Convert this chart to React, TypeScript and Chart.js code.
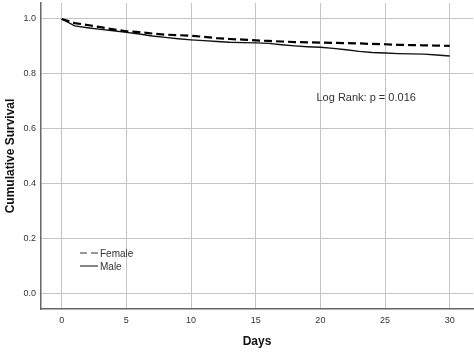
import React, { useEffect, useRef } from "react";
import { Chart, registerables } from "chart.js";

Chart.register(...registerables);

const days = [0, 1, 2, 3, 4, 5, 6, 7, 8, 9, 10, 11, 12, 13, 14, 15, 16, 17, 18, 19, 20, 21, 22, 23, 24, 25, 26, 27, 28, 29, 30];
const femaleSurvival = [1.0, 0.985, 0.978, 0.970, 0.962, 0.955, 0.952, 0.947, 0.943, 0.941, 0.939, 0.935, 0.930, 0.927, 0.925, 0.922, 0.920, 0.918, 0.916, 0.915, 0.914, 0.913, 0.912, 0.911, 0.909, 0.908, 0.906, 0.905, 0.904, 0.903, 0.902];
const maleSurvival = [1.0, 0.975, 0.968, 0.962, 0.957, 0.951, 0.945, 0.938, 0.933, 0.928, 0.924, 0.921, 0.918, 0.915, 0.914, 0.913, 0.911, 0.906, 0.902, 0.899, 0.897, 0.893, 0.888, 0.882, 0.878, 0.876, 0.874, 0.873, 0.872, 0.869, 0.865];
const xTicks = [0, 5, 10, 15, 20, 25, 30];
const yTicks = [0, 0.2, 0.4, 0.6, 0.8, 1.0];
const seriesNames = ["Female", "Male"];
const annotationText = "Log Rank: p = 0.016";
const annotationPos = { x: 19.7, y: 0.713 };

const FONT = "'Liberation Sans', Arial, sans-serif";

const overlayPlugin = {
  id: "overlay",
  afterDatasetsDraw(chart: any) {
    const { ctx, chartArea, scales } = chart;
    ctx.save();
    ctx.fillStyle = "#333";
    ctx.font = `11px ${FONT}`;
    ctx.textAlign = "left";
    ctx.textBaseline = "middle";
    ctx.fillText(annotationText, scales.x.getPixelForValue(annotationPos.x), scales.y.getPixelForValue(annotationPos.y));
    const lx = chartArea.left + 39;
    const ly = chartArea.bottom - 56;
    ctx.font = `10px ${FONT}`;
    ctx.strokeStyle = "#333";
    ctx.lineWidth = 1.2;
    [0, 1].forEach((i) => {
      const y = ly + i * 13;
      ctx.setLineDash(i === 0 ? [7, 4] : []);
      ctx.beginPath();
      ctx.moveTo(lx, y);
      ctx.lineTo(lx + 18, y);
      ctx.stroke();
      ctx.setLineDash([]);
      ctx.fillText(seriesNames[i], lx + 20, y + 1);
    });
    ctx.restore();
  },
};

export default function App() {
  const ref = useRef<HTMLCanvasElement>(null);
  useEffect(() => {
    const chart = new Chart(ref.current!, {
      type: "line",
      data: {
        datasets: [
          {
            label: seriesNames[0],
            data: days.map((d, i) => ({ x: d, y: femaleSurvival[i] })),
            borderColor: "#000",
            borderWidth: 2.2,
            borderDash: [8, 4],
            pointRadius: 0,
            fill: false,
          },
          {
            label: seriesNames[1],
            data: days.map((d, i) => ({ x: d, y: maleSurvival[i] })),
            borderColor: "#111",
            borderWidth: 1.4,
            pointRadius: 0,
            fill: false,
          },
        ],
      },
      options: {
        animation: false,
        responsive: false,
        layout: { padding: { top: 3, right: 1, left: 0, bottom: 0 } },
        plugins: { legend: { display: false }, tooltip: { enabled: false } },
        scales: {
          x: {
            type: "linear",
            min: -1.6,
            max: 31.8,
            afterBuildTicks: (s: any) => {
              s.ticks = xTicks.map((v) => ({ value: v }));
            },
            afterFit: (s: any) => {
              s.height = 43;
              s.paddingLeft = 0;
              s.paddingRight = 0;
            },
            grid: { color: "#c4c4c4", lineWidth: 1, drawTicks: false },
            border: { color: "#666", width: 1.5 },
            ticks: { font: { family: FONT, size: 9 }, color: "#333", padding: 6, maxRotation: 0 },
            title: {
              display: true,
              text: "Days",
              font: { family: FONT, size: 12, weight: "bold" },
              color: "#111",
              padding: { top: 0, bottom: 3 },
            },
          },
          y: {
            type: "linear",
            min: -0.055,
            max: 1.058,
            afterBuildTicks: (s: any) => {
              s.ticks = yTicks.map((v) => ({ value: v }));
            },
            afterFit: (s: any) => {
              s.width = 41;
              s.paddingTop = 0;
              s.paddingBottom = 0;
            },
            grid: { color: "#c4c4c4", lineWidth: 1, drawTicks: false },
            border: { color: "#666", width: 1.5 },
            ticks: {
              font: { family: FONT, size: 9 },
              color: "#333",
              padding: 5,
              callback: (v: any) => Number(v).toFixed(1),
            },
            title: {
              display: true,
              text: "Cumulative Survival",
              font: { family: FONT, size: 12, weight: "bold" },
              color: "#111",
              padding: { top: 3, bottom: 0 },
            },
          },
        },
      } as any,
      plugins: [overlayPlugin],
    });
    return () => chart.destroy();
  }, []);
  return (
    <div style={{ position: "fixed", left: 0, top: 0, width: 474, height: 352, background: "#fff" }}>
      <canvas ref={ref} width={474} height={352} />
    </div>
  );
}
